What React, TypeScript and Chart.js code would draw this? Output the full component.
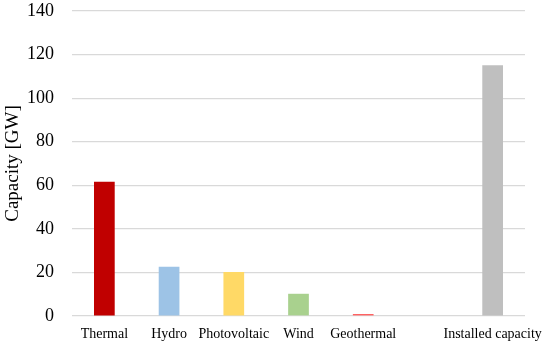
import React, { useEffect, useRef } from "react";
import { Chart, registerables } from "chart.js";

Chart.register(...registerables);

const categories = ["Thermal", "Hydro", "Photovoltaic", "Wind", "Geothermal", "", "Installed capacity"];
const capacityGW = [61.6, 22.6, 20.2, 10.2, 0.9, null, 115.1];
const barColors = ["#C00000", "#9DC3E6", "#FFD966", "#A9D18E", "#FF5B5B", "#FFFFFF", "#BFBFBF"];
const yTicks = [0, 20, 40, 60, 80, 100, 120, 140];

export default function App() {
  const ref = useRef<HTMLCanvasElement | null>(null);
  useEffect(() => {
    document.body.style.margin = "0";
    const ctx = ref.current!;
    const chart = new Chart(ctx, {
      type: "bar",
      data: {
        labels: categories,
        datasets: [
          {
            data: capacityGW as any,
            backgroundColor: barColors,
            categoryPercentage: 1,
            barPercentage: 0.32,
          },
        ],
      },
      options: {
        animation: false,
        responsive: false,
        maintainAspectRatio: false,
        layout: { padding: { top: 11, right: 25, bottom: 0, left: 2 } },
        plugins: { legend: { display: false }, tooltip: { enabled: false } },
        scales: {
          x: {
            grid: { display: false, drawTicks: false },
            border: { display: false },
            ticks: {
              color: "#000",
              font: { family: "Liberation Serif", size: 14 },
              padding: 10,
              maxRotation: 0,
              autoSkip: false,
            },
            afterFit: (s: any) => {
              s.height = 30;
              s.paddingLeft = 0;
              s.paddingRight = 0;
            },
          },
          y: {
            min: 0,
            max: 140,
            afterBuildTicks: (s: any) => {
              s.ticks = yTicks.map((v) => ({ value: v }));
            },
            grid: { color: "#D9D9D9", drawTicks: false, lineWidth: 1.2 },
            border: { display: false },
            ticks: {
              color: "#000",
              font: { family: "Liberation Serif", size: 18 },
              padding: 18,
            },
            title: {
              display: true,
              text: "Capacity [GW]",
              color: "#000",
              font: { family: "Liberation Serif", size: 19 },
              padding: { top: 0, bottom: 0 },
            },
            afterFit: (s: any) => {
              s.width = 70;
              s.paddingTop = 0;
              s.paddingBottom = 0;
            },
          },
        },
      },
    });
    return () => chart.destroy();
  }, []);
  return (
    <div style={{ position: "fixed", left: 0, top: 0, width: 550, height: 346, background: "#fff" }}>
      <canvas ref={ref} width={550} height={346} />
    </div>
  );
}
